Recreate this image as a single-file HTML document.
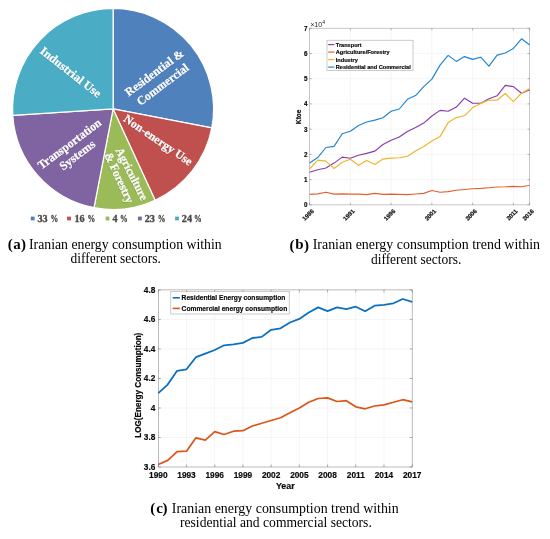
<!DOCTYPE html>
<html><head><meta charset="utf-8"><title>Iranian energy consumption</title>
<style>
html,body{margin:0;padding:0;background:#fff;}
body{width:550px;height:539px;overflow:hidden;}
svg{display:block;}
.cap{font-family:"Liberation Serif",serif;font-size:14.2px;fill:#000;}
.capb{font-family:"Liberation Serif",serif;font-size:15px;font-weight:bold;fill:#000;}
.pl{font-family:"Liberation Serif",serif;font-weight:bold;font-size:12px;fill:#fff;stroke:#fff;stroke-width:.25px;text-anchor:middle;}
.pls{font-family:"Liberation Serif",serif;font-weight:bold;font-size:12px;fill:#000;fill-opacity:.28;text-anchor:middle;}
.lg{font-family:"Liberation Serif",serif;font-weight:bold;font-size:9.3px;fill:#484848;stroke:#484848;stroke-width:.3px;}
.tb{font-family:"Liberation Sans",sans-serif;font-weight:bold;fill:#0a0a0a;stroke:#0a0a0a;stroke-width:.18px;}
.tr{font-family:"Liberation Sans",sans-serif;fill:#1a1a1a;}
</style></head><body>
<svg width="550" height="539" viewBox="0 0 550 539">
<rect width="550" height="539" fill="#fff"/>
<g stroke="#fff" stroke-width="1.2" stroke-linejoin="round">
<path d="M113.10 108.95L113.10 8.45A100.5 100.5 0 0 1 211.79 127.95Z" fill="#4F81BD"/>
<path d="M113.10 108.95L211.79 127.95A100.5 100.5 0 0 1 155.10 200.26Z" fill="#C0504D"/>
<path d="M113.10 108.95L155.10 200.26A100.5 100.5 0 0 1 94.01 207.62Z" fill="#9BBB59"/>
<path d="M113.10 108.95L94.01 207.62A100.5 100.5 0 0 1 12.81 115.44Z" fill="#8064A2"/>
<path d="M113.10 108.95L12.81 115.44A100.5 100.5 0 0 1 113.10 8.45Z" fill="#4BACC6"/>
</g>
<g transform="translate(70.8 72.1) rotate(38)"><text class="pls" x="0.5" y="4.6" textLength="74" lengthAdjust="spacingAndGlyphs">Industrial Use</text><text class="pl" x="0" y="4" textLength="74" lengthAdjust="spacingAndGlyphs">Industrial Use</text></g>
<g transform="translate(154.3 72.7) rotate(-36.7)"><text class="pls" x="0.5" y="4.6" textLength="69.6" lengthAdjust="spacingAndGlyphs">Residential &amp;</text><text class="pl" x="0" y="4" textLength="69.6" lengthAdjust="spacingAndGlyphs">Residential &amp;</text></g>
<g transform="translate(162.7 84.4) rotate(-36.7)"><text class="pls" x="0.5" y="4.6" textLength="61.4" lengthAdjust="spacingAndGlyphs">Commercial</text><text class="pl" x="0" y="4" textLength="61.4" lengthAdjust="spacingAndGlyphs">Commercial</text></g>
<g transform="translate(158.2 140.0) rotate(34.4)"><text class="pls" x="0.5" y="4.6" textLength="80.3" lengthAdjust="spacingAndGlyphs">Non-energy Use</text><text class="pl" x="0" y="4" textLength="80.3" lengthAdjust="spacingAndGlyphs">Non-energy Use</text></g>
<g transform="translate(131.9 174.0) rotate(63)"><text class="pls" x="0.5" y="4.6" textLength="57.5" lengthAdjust="spacingAndGlyphs">Agriculture</text><text class="pl" x="0" y="4" textLength="57.5" lengthAdjust="spacingAndGlyphs">Agriculture</text></g>
<g transform="translate(119.2 177.8) rotate(65)"><text class="pls" x="0.5" y="4.6" textLength="54" lengthAdjust="spacingAndGlyphs">&amp; Forestry</text><text class="pl" x="0" y="4" textLength="54" lengthAdjust="spacingAndGlyphs">&amp; Forestry</text></g>
<g transform="translate(69.5 143.9) rotate(-36.7)"><text class="pls" x="0.5" y="4.6" textLength="76" lengthAdjust="spacingAndGlyphs">Transportation</text><text class="pl" x="0" y="4" textLength="76" lengthAdjust="spacingAndGlyphs">Transportation</text></g>
<g transform="translate(77.3 155.0) rotate(-37.5)"><text class="pls" x="0.5" y="4.6" textLength="41.6" lengthAdjust="spacingAndGlyphs">Systems</text><text class="pl" x="0" y="4" textLength="41.6" lengthAdjust="spacingAndGlyphs">Systems</text></g>
<rect x="30.8" y="216.6" width="3.8" height="3.8" fill="#4F81BD"/><text class="lg" x="37.5" y="221.6" textLength="10.2" lengthAdjust="spacingAndGlyphs">33</text><text class="lg" x="50.5" y="221.6" textLength="7.7" lengthAdjust="spacingAndGlyphs">%</text>
<rect x="67.1" y="216.6" width="3.8" height="3.8" fill="#C0504D"/><text class="lg" x="74.5" y="221.6" textLength="10.2" lengthAdjust="spacingAndGlyphs">16</text><text class="lg" x="87.6" y="221.6" textLength="7.7" lengthAdjust="spacingAndGlyphs">%</text>
<rect x="105.6" y="216.6" width="3.8" height="3.8" fill="#9BBB59"/><text class="lg" x="112.4" y="221.6" textLength="5.0" lengthAdjust="spacingAndGlyphs">4</text><text class="lg" x="119.9" y="221.6" textLength="7.7" lengthAdjust="spacingAndGlyphs">%</text>
<rect x="138.0" y="216.6" width="3.8" height="3.8" fill="#8064A2"/><text class="lg" x="144.7" y="221.6" textLength="10.2" lengthAdjust="spacingAndGlyphs">23</text><text class="lg" x="157.8" y="221.6" textLength="7.7" lengthAdjust="spacingAndGlyphs">%</text>
<rect x="175.1" y="216.6" width="3.8" height="3.8" fill="#4BACC6"/><text class="lg" x="181.8" y="221.6" textLength="10.2" lengthAdjust="spacingAndGlyphs">24</text><text class="lg" x="194.1" y="221.6" textLength="7.7" lengthAdjust="spacingAndGlyphs">%</text>
<text class="capb" font-size="16.4" x="7.7" y="249.20000000000002">(</text>
<text class="capb" x="13.3" y="248.8">a</text>
<text class="capb" font-size="16.4" x="21.0" y="249.20000000000002">)</text>
<text class="cap" x="29.0" y="248.8" textLength="192.7" lengthAdjust="spacingAndGlyphs">Iranian energy consumption within</text>
<text class="cap" x="70.6" y="263.4" textLength="90.2" lengthAdjust="spacingAndGlyphs">different sectors.</text>
<text class="capb" font-size="16.4" x="289.4" y="249.5">(</text>
<text class="capb" x="295.3" y="249.1">b</text>
<text class="capb" font-size="16.4" x="304.0" y="249.5">)</text>
<text class="cap" x="312.7" y="249.1" textLength="227.3" lengthAdjust="spacingAndGlyphs">Iranian energy consumption trend within</text>
<text class="cap" x="370.9" y="263.6" textLength="90.4" lengthAdjust="spacingAndGlyphs">different sectors.</text>
<text class="capb" font-size="16.4" x="150.3" y="513.4">(</text>
<text class="capb" x="156.2" y="513.0">c</text>
<text class="capb" font-size="16.4" x="162.6" y="513.4">)</text>
<text class="cap" x="171.8" y="513.0" textLength="226.9" lengthAdjust="spacingAndGlyphs">Iranian energy consumption trend within</text>
<text class="cap" x="180.0" y="527.2" textLength="191.8" lengthAdjust="spacingAndGlyphs">residential and commercial sectors.</text>
<g>
<line x1="309.6" x2="529.7" y1="179.66" y2="179.66" stroke="#ececec" stroke-width="0.55"/>
<line x1="309.6" x2="529.7" y1="154.41" y2="154.41" stroke="#ececec" stroke-width="0.55"/>
<line x1="309.6" x2="529.7" y1="129.17" y2="129.17" stroke="#ececec" stroke-width="0.55"/>
<line x1="309.6" x2="529.7" y1="103.93" y2="103.93" stroke="#ececec" stroke-width="0.55"/>
<line x1="309.6" x2="529.7" y1="78.69" y2="78.69" stroke="#ececec" stroke-width="0.55"/>
<line x1="309.6" x2="529.7" y1="53.44" y2="53.44" stroke="#ececec" stroke-width="0.55"/>
<line x1="350.36" x2="350.36" y1="28.2" y2="204.9" stroke="#ececec" stroke-width="0.55"/>
<line x1="391.12" x2="391.12" y1="28.2" y2="204.9" stroke="#ececec" stroke-width="0.55"/>
<line x1="431.88" x2="431.88" y1="28.2" y2="204.9" stroke="#ececec" stroke-width="0.55"/>
<line x1="472.64" x2="472.64" y1="28.2" y2="204.9" stroke="#ececec" stroke-width="0.55"/>
<line x1="513.40" x2="513.40" y1="28.2" y2="204.9" stroke="#ececec" stroke-width="0.55"/>
<rect x="309.6" y="28.2" width="220.10" height="176.70" fill="none" stroke="#9c9c9c" stroke-width="0.55"/>
<line x1="309.6" x2="311.8" y1="204.90" y2="204.90" stroke="#777" stroke-width="0.5"/>
<line x1="529.7" x2="527.5" y1="204.90" y2="204.90" stroke="#777" stroke-width="0.5"/>
<text class="tb" font-size="6.3" text-anchor="end" x="307.4" y="207.35">0</text>
<line x1="309.6" x2="311.8" y1="179.66" y2="179.66" stroke="#777" stroke-width="0.5"/>
<line x1="529.7" x2="527.5" y1="179.66" y2="179.66" stroke="#777" stroke-width="0.5"/>
<text class="tb" font-size="6.3" text-anchor="end" x="307.4" y="182.11">1</text>
<line x1="309.6" x2="311.8" y1="154.41" y2="154.41" stroke="#777" stroke-width="0.5"/>
<line x1="529.7" x2="527.5" y1="154.41" y2="154.41" stroke="#777" stroke-width="0.5"/>
<text class="tb" font-size="6.3" text-anchor="end" x="307.4" y="156.86">2</text>
<line x1="309.6" x2="311.8" y1="129.17" y2="129.17" stroke="#777" stroke-width="0.5"/>
<line x1="529.7" x2="527.5" y1="129.17" y2="129.17" stroke="#777" stroke-width="0.5"/>
<text class="tb" font-size="6.3" text-anchor="end" x="307.4" y="131.62">3</text>
<line x1="309.6" x2="311.8" y1="103.93" y2="103.93" stroke="#777" stroke-width="0.5"/>
<line x1="529.7" x2="527.5" y1="103.93" y2="103.93" stroke="#777" stroke-width="0.5"/>
<text class="tb" font-size="6.3" text-anchor="end" x="307.4" y="106.38">4</text>
<line x1="309.6" x2="311.8" y1="78.69" y2="78.69" stroke="#777" stroke-width="0.5"/>
<line x1="529.7" x2="527.5" y1="78.69" y2="78.69" stroke="#777" stroke-width="0.5"/>
<text class="tb" font-size="6.3" text-anchor="end" x="307.4" y="81.14">5</text>
<line x1="309.6" x2="311.8" y1="53.44" y2="53.44" stroke="#777" stroke-width="0.5"/>
<line x1="529.7" x2="527.5" y1="53.44" y2="53.44" stroke="#777" stroke-width="0.5"/>
<text class="tb" font-size="6.3" text-anchor="end" x="307.4" y="55.89">6</text>
<line x1="309.6" x2="311.8" y1="28.20" y2="28.20" stroke="#777" stroke-width="0.5"/>
<line x1="529.7" x2="527.5" y1="28.20" y2="28.20" stroke="#777" stroke-width="0.5"/>
<text class="tb" font-size="6.3" text-anchor="end" x="307.4" y="30.65">7</text>
<line x1="309.60" x2="309.60" y1="204.9" y2="202.70000000000002" stroke="#777" stroke-width="0.5"/>
<line x1="309.60" x2="309.60" y1="28.2" y2="30.4" stroke="#777" stroke-width="0.5"/>
<text class="tb" font-size="6" text-anchor="end" transform="translate(312.80 210.10) rotate(-45)" x="0" y="2.1">1986</text>
<line x1="350.36" x2="350.36" y1="204.9" y2="202.70000000000002" stroke="#777" stroke-width="0.5"/>
<line x1="350.36" x2="350.36" y1="28.2" y2="30.4" stroke="#777" stroke-width="0.5"/>
<text class="tb" font-size="6" text-anchor="end" transform="translate(353.56 210.10) rotate(-45)" x="0" y="2.1">1991</text>
<line x1="391.12" x2="391.12" y1="204.9" y2="202.70000000000002" stroke="#777" stroke-width="0.5"/>
<line x1="391.12" x2="391.12" y1="28.2" y2="30.4" stroke="#777" stroke-width="0.5"/>
<text class="tb" font-size="6" text-anchor="end" transform="translate(394.32 210.10) rotate(-45)" x="0" y="2.1">1996</text>
<line x1="431.88" x2="431.88" y1="204.9" y2="202.70000000000002" stroke="#777" stroke-width="0.5"/>
<line x1="431.88" x2="431.88" y1="28.2" y2="30.4" stroke="#777" stroke-width="0.5"/>
<text class="tb" font-size="6" text-anchor="end" transform="translate(435.08 210.10) rotate(-45)" x="0" y="2.1">2001</text>
<line x1="472.64" x2="472.64" y1="204.9" y2="202.70000000000002" stroke="#777" stroke-width="0.5"/>
<line x1="472.64" x2="472.64" y1="28.2" y2="30.4" stroke="#777" stroke-width="0.5"/>
<text class="tb" font-size="6" text-anchor="end" transform="translate(475.84 210.10) rotate(-45)" x="0" y="2.1">2006</text>
<line x1="513.40" x2="513.40" y1="204.9" y2="202.70000000000002" stroke="#777" stroke-width="0.5"/>
<line x1="513.40" x2="513.40" y1="28.2" y2="30.4" stroke="#777" stroke-width="0.5"/>
<text class="tb" font-size="6" text-anchor="end" transform="translate(516.60 210.10) rotate(-45)" x="0" y="2.1">2011</text>
<line x1="529.70" x2="529.70" y1="204.9" y2="202.70000000000002" stroke="#777" stroke-width="0.5"/>
<line x1="529.70" x2="529.70" y1="28.2" y2="30.4" stroke="#777" stroke-width="0.5"/>
<text class="tb" font-size="6" text-anchor="end" transform="translate(532.90 210.10) rotate(-45)" x="0" y="2.1">2016</text>
<text class="tr" font-size="6.8" x="310.4" y="26.9">×10</text><text class="tr" font-size="5" x="322.2" y="24.1">4</text>
<text class="tb" font-size="6.6" text-anchor="middle" transform="translate(301.2 116.8) rotate(-90)">Ktoe</text>
<polyline points="309.60,172.30 317.75,169.70 325.90,168.00 334.06,163.10 342.21,157.10 350.36,158.20 358.51,155.20 366.66,153.40 374.81,151.10 382.97,144.50 391.12,140.20 399.27,137.00 407.42,131.50 415.57,127.60 423.73,123.10 431.88,116.00 440.03,110.40 448.18,111.20 456.33,107.10 464.49,98.20 472.64,103.30 480.79,103.20 488.94,98.70 497.09,95.80 505.24,85.40 513.40,86.60 521.55,93.20 529.70,89.80" fill="none" stroke="#8a3aa8" stroke-width="1.15" stroke-linejoin="round" stroke-linecap="butt"/>
<polyline points="309.60,194.40 317.75,193.90 325.90,192.20 334.06,194.10 342.21,193.90 350.36,194.10 358.51,194.10 366.66,194.60 374.81,193.40 382.97,194.40 391.12,194.10 399.27,194.40 407.42,194.60 415.57,194.00 423.73,193.40 431.88,190.50 440.03,192.30 448.18,191.60 456.33,190.30 464.49,189.50 472.64,188.80 480.79,188.40 488.94,187.70 497.09,187.00 505.24,186.80 513.40,186.40 521.55,186.80 529.70,185.30" fill="none" stroke="#e56030" stroke-width="1.15" stroke-linejoin="round" stroke-linecap="butt"/>
<polyline points="309.60,169.00 317.75,160.10 325.90,161.10 334.06,168.50 342.21,162.30 350.36,159.30 358.51,165.30 366.66,160.50 374.81,164.60 382.97,159.10 391.12,158.10 399.27,157.70 407.42,156.20 415.57,151.00 423.73,146.40 431.88,140.90 440.03,136.60 448.18,122.60 456.33,117.60 464.49,115.80 472.64,107.60 480.79,103.40 488.94,100.00 497.09,100.30 505.24,93.50 513.40,101.70 521.55,93.20 529.70,88.50" fill="none" stroke="#f0b429" stroke-width="1.15" stroke-linejoin="round" stroke-linecap="butt"/>
<polyline points="309.60,163.10 317.75,157.60 325.90,147.50 334.06,146.40 342.21,133.80 350.36,131.20 358.51,125.50 366.66,122.00 374.81,120.10 382.97,117.70 391.12,111.20 399.27,109.00 407.42,99.30 415.57,95.60 423.73,86.70 431.88,79.10 440.03,65.10 448.18,55.40 456.33,61.40 464.49,56.60 472.64,59.40 480.79,57.20 488.94,66.20 497.09,55.10 505.24,53.00 513.40,48.40 521.55,38.80 529.70,45.00" fill="none" stroke="#1f83d3" stroke-width="1.15" stroke-linejoin="round" stroke-linecap="butt"/>
<rect x="327.0" y="40.2" width="86.0" height="30.3" fill="#fff" stroke="#a8a8a8" stroke-width="0.6"/>
<line x1="328.2" x2="334.3" y1="44.60" y2="44.60" stroke="#8a3aa8" stroke-width="1.2"/>
<text class="tb" font-size="5.6" x="335.8" y="46.75">Transport</text>
<line x1="328.2" x2="334.3" y1="52.10" y2="52.10" stroke="#e56030" stroke-width="1.2"/>
<text class="tb" font-size="5.6" x="335.8" y="54.25">Agriculture/Forestry</text>
<line x1="328.2" x2="334.3" y1="59.60" y2="59.60" stroke="#f0b429" stroke-width="1.2"/>
<text class="tb" font-size="5.6" x="335.8" y="61.75">Industry</text>
<line x1="328.2" x2="334.3" y1="67.10" y2="67.10" stroke="#1f83d3" stroke-width="1.2"/>
<text class="tb" font-size="5.6" x="335.8" y="69.25">Residential and Commercial</text>
</g>
<g>
<line x1="158.3" x2="412.2" y1="437.48" y2="437.48" stroke="#ececec" stroke-width="0.55"/>
<line x1="158.3" x2="412.2" y1="407.97" y2="407.97" stroke="#ececec" stroke-width="0.55"/>
<line x1="158.3" x2="412.2" y1="378.45" y2="378.45" stroke="#ececec" stroke-width="0.55"/>
<line x1="158.3" x2="412.2" y1="348.93" y2="348.93" stroke="#ececec" stroke-width="0.55"/>
<line x1="158.3" x2="412.2" y1="319.42" y2="319.42" stroke="#ececec" stroke-width="0.55"/>
<line x1="186.51" x2="186.51" y1="289.9" y2="467.0" stroke="#ececec" stroke-width="0.55"/>
<line x1="214.72" x2="214.72" y1="289.9" y2="467.0" stroke="#ececec" stroke-width="0.55"/>
<line x1="242.93" x2="242.93" y1="289.9" y2="467.0" stroke="#ececec" stroke-width="0.55"/>
<line x1="271.14" x2="271.14" y1="289.9" y2="467.0" stroke="#ececec" stroke-width="0.55"/>
<line x1="299.36" x2="299.36" y1="289.9" y2="467.0" stroke="#ececec" stroke-width="0.55"/>
<line x1="327.57" x2="327.57" y1="289.9" y2="467.0" stroke="#ececec" stroke-width="0.55"/>
<line x1="355.78" x2="355.78" y1="289.9" y2="467.0" stroke="#ececec" stroke-width="0.55"/>
<line x1="383.99" x2="383.99" y1="289.9" y2="467.0" stroke="#ececec" stroke-width="0.55"/>
<rect x="158.3" y="289.9" width="253.90" height="177.10" fill="none" stroke="#8c8c8c" stroke-width="0.6"/>
<line x1="158.3" x2="160.8" y1="467.00" y2="467.00" stroke="#777" stroke-width="0.6"/>
<line x1="412.2" x2="409.7" y1="467.00" y2="467.00" stroke="#777" stroke-width="0.6"/>
<text class="tb" font-size="8.3" text-anchor="end" x="155.4" y="470.00">3.6</text>
<line x1="158.3" x2="160.8" y1="437.48" y2="437.48" stroke="#777" stroke-width="0.6"/>
<line x1="412.2" x2="409.7" y1="437.48" y2="437.48" stroke="#777" stroke-width="0.6"/>
<text class="tb" font-size="8.3" text-anchor="end" x="155.4" y="440.48">3.8</text>
<line x1="158.3" x2="160.8" y1="407.97" y2="407.97" stroke="#777" stroke-width="0.6"/>
<line x1="412.2" x2="409.7" y1="407.97" y2="407.97" stroke="#777" stroke-width="0.6"/>
<text class="tb" font-size="8.3" text-anchor="end" x="155.4" y="410.97">4</text>
<line x1="158.3" x2="160.8" y1="378.45" y2="378.45" stroke="#777" stroke-width="0.6"/>
<line x1="412.2" x2="409.7" y1="378.45" y2="378.45" stroke="#777" stroke-width="0.6"/>
<text class="tb" font-size="8.3" text-anchor="end" x="155.4" y="381.45">4.2</text>
<line x1="158.3" x2="160.8" y1="348.93" y2="348.93" stroke="#777" stroke-width="0.6"/>
<line x1="412.2" x2="409.7" y1="348.93" y2="348.93" stroke="#777" stroke-width="0.6"/>
<text class="tb" font-size="8.3" text-anchor="end" x="155.4" y="351.93">4.4</text>
<line x1="158.3" x2="160.8" y1="319.42" y2="319.42" stroke="#777" stroke-width="0.6"/>
<line x1="412.2" x2="409.7" y1="319.42" y2="319.42" stroke="#777" stroke-width="0.6"/>
<text class="tb" font-size="8.3" text-anchor="end" x="155.4" y="322.42">4.6</text>
<line x1="158.3" x2="160.8" y1="289.90" y2="289.90" stroke="#777" stroke-width="0.6"/>
<line x1="412.2" x2="409.7" y1="289.90" y2="289.90" stroke="#777" stroke-width="0.6"/>
<text class="tb" font-size="8.3" text-anchor="end" x="155.4" y="292.90">4.8</text>
<line x1="158.30" x2="158.30" y1="467.0" y2="464.5" stroke="#777" stroke-width="0.6"/>
<line x1="158.30" x2="158.30" y1="289.9" y2="292.4" stroke="#777" stroke-width="0.6"/>
<text class="tb" font-size="8.3" text-anchor="middle" x="158.30" y="477.8">1990</text>
<line x1="186.51" x2="186.51" y1="467.0" y2="464.5" stroke="#777" stroke-width="0.6"/>
<line x1="186.51" x2="186.51" y1="289.9" y2="292.4" stroke="#777" stroke-width="0.6"/>
<text class="tb" font-size="8.3" text-anchor="middle" x="186.51" y="477.8">1993</text>
<line x1="214.72" x2="214.72" y1="467.0" y2="464.5" stroke="#777" stroke-width="0.6"/>
<line x1="214.72" x2="214.72" y1="289.9" y2="292.4" stroke="#777" stroke-width="0.6"/>
<text class="tb" font-size="8.3" text-anchor="middle" x="214.72" y="477.8">1996</text>
<line x1="242.93" x2="242.93" y1="467.0" y2="464.5" stroke="#777" stroke-width="0.6"/>
<line x1="242.93" x2="242.93" y1="289.9" y2="292.4" stroke="#777" stroke-width="0.6"/>
<text class="tb" font-size="8.3" text-anchor="middle" x="242.93" y="477.8">1999</text>
<line x1="271.14" x2="271.14" y1="467.0" y2="464.5" stroke="#777" stroke-width="0.6"/>
<line x1="271.14" x2="271.14" y1="289.9" y2="292.4" stroke="#777" stroke-width="0.6"/>
<text class="tb" font-size="8.3" text-anchor="middle" x="271.14" y="477.8">2002</text>
<line x1="299.36" x2="299.36" y1="467.0" y2="464.5" stroke="#777" stroke-width="0.6"/>
<line x1="299.36" x2="299.36" y1="289.9" y2="292.4" stroke="#777" stroke-width="0.6"/>
<text class="tb" font-size="8.3" text-anchor="middle" x="299.36" y="477.8">2005</text>
<line x1="327.57" x2="327.57" y1="467.0" y2="464.5" stroke="#777" stroke-width="0.6"/>
<line x1="327.57" x2="327.57" y1="289.9" y2="292.4" stroke="#777" stroke-width="0.6"/>
<text class="tb" font-size="8.3" text-anchor="middle" x="327.57" y="477.8">2008</text>
<line x1="355.78" x2="355.78" y1="467.0" y2="464.5" stroke="#777" stroke-width="0.6"/>
<line x1="355.78" x2="355.78" y1="289.9" y2="292.4" stroke="#777" stroke-width="0.6"/>
<text class="tb" font-size="8.3" text-anchor="middle" x="355.78" y="477.8">2011</text>
<line x1="383.99" x2="383.99" y1="467.0" y2="464.5" stroke="#777" stroke-width="0.6"/>
<line x1="383.99" x2="383.99" y1="289.9" y2="292.4" stroke="#777" stroke-width="0.6"/>
<text class="tb" font-size="8.3" text-anchor="middle" x="383.99" y="477.8">2014</text>
<line x1="412.20" x2="412.20" y1="467.0" y2="464.5" stroke="#777" stroke-width="0.6"/>
<line x1="412.20" x2="412.20" y1="289.9" y2="292.4" stroke="#777" stroke-width="0.6"/>
<text class="tb" font-size="8.3" text-anchor="middle" x="412.20" y="477.8">2017</text>
<text class="tb" font-size="8.9" text-anchor="middle" x="285.3" y="489.3">Year</text>
<text class="tb" font-size="8.2" text-anchor="middle" transform="translate(141.2 385.2) rotate(-90)" textLength="105" lengthAdjust="spacingAndGlyphs">LOG(Energy Consumption)</text>
<polyline points="158.30,393.10 167.70,384.60 177.11,370.80 186.51,369.30 195.91,357.20 205.32,353.70 214.72,350.00 224.13,345.30 233.53,344.40 242.93,342.90 252.34,338.00 261.74,336.90 271.14,329.80 280.55,328.30 289.95,322.50 299.36,318.90 308.76,312.50 318.16,307.40 327.57,311.20 336.97,307.40 346.37,309.10 355.78,306.70 365.18,311.20 374.59,305.70 383.99,304.80 393.39,303.30 402.80,299.00 412.20,301.80" fill="none" stroke="#0b70c2" stroke-width="1.8" stroke-linejoin="round" stroke-linecap="butt"/>
<polyline points="158.30,464.50 167.70,460.40 177.11,451.60 186.51,451.20 195.91,437.80 205.32,440.10 214.72,431.60 224.13,434.50 233.53,431.20 242.93,430.70 252.34,426.00 261.74,423.30 271.14,420.50 280.55,417.80 289.95,412.80 299.36,408.00 308.76,402.20 318.16,398.50 327.57,397.90 336.97,401.50 346.37,400.70 355.78,406.80 365.18,408.80 374.59,406.00 383.99,404.90 393.39,402.20 402.80,399.70 412.20,401.90" fill="none" stroke="#dc5518" stroke-width="1.7" stroke-linejoin="round" stroke-linecap="butt"/>
<rect x="170.8" y="291.5" width="118.4" height="22.5" fill="#fff" stroke="#a8a8a8" stroke-width="0.6"/>
<line x1="172.7" x2="179.8" y1="297.80" y2="297.80" stroke="#0b70c2" stroke-width="1.6"/>
<text class="tb" font-size="6.68" x="181.6" y="300.10">Residential Energy consumption</text>
<line x1="172.7" x2="179.8" y1="308.40" y2="308.40" stroke="#dc5518" stroke-width="1.6"/>
<text class="tb" font-size="6.68" x="181.6" y="310.70">Commercial energy consumption</text>
</g>
</svg></body></html>
